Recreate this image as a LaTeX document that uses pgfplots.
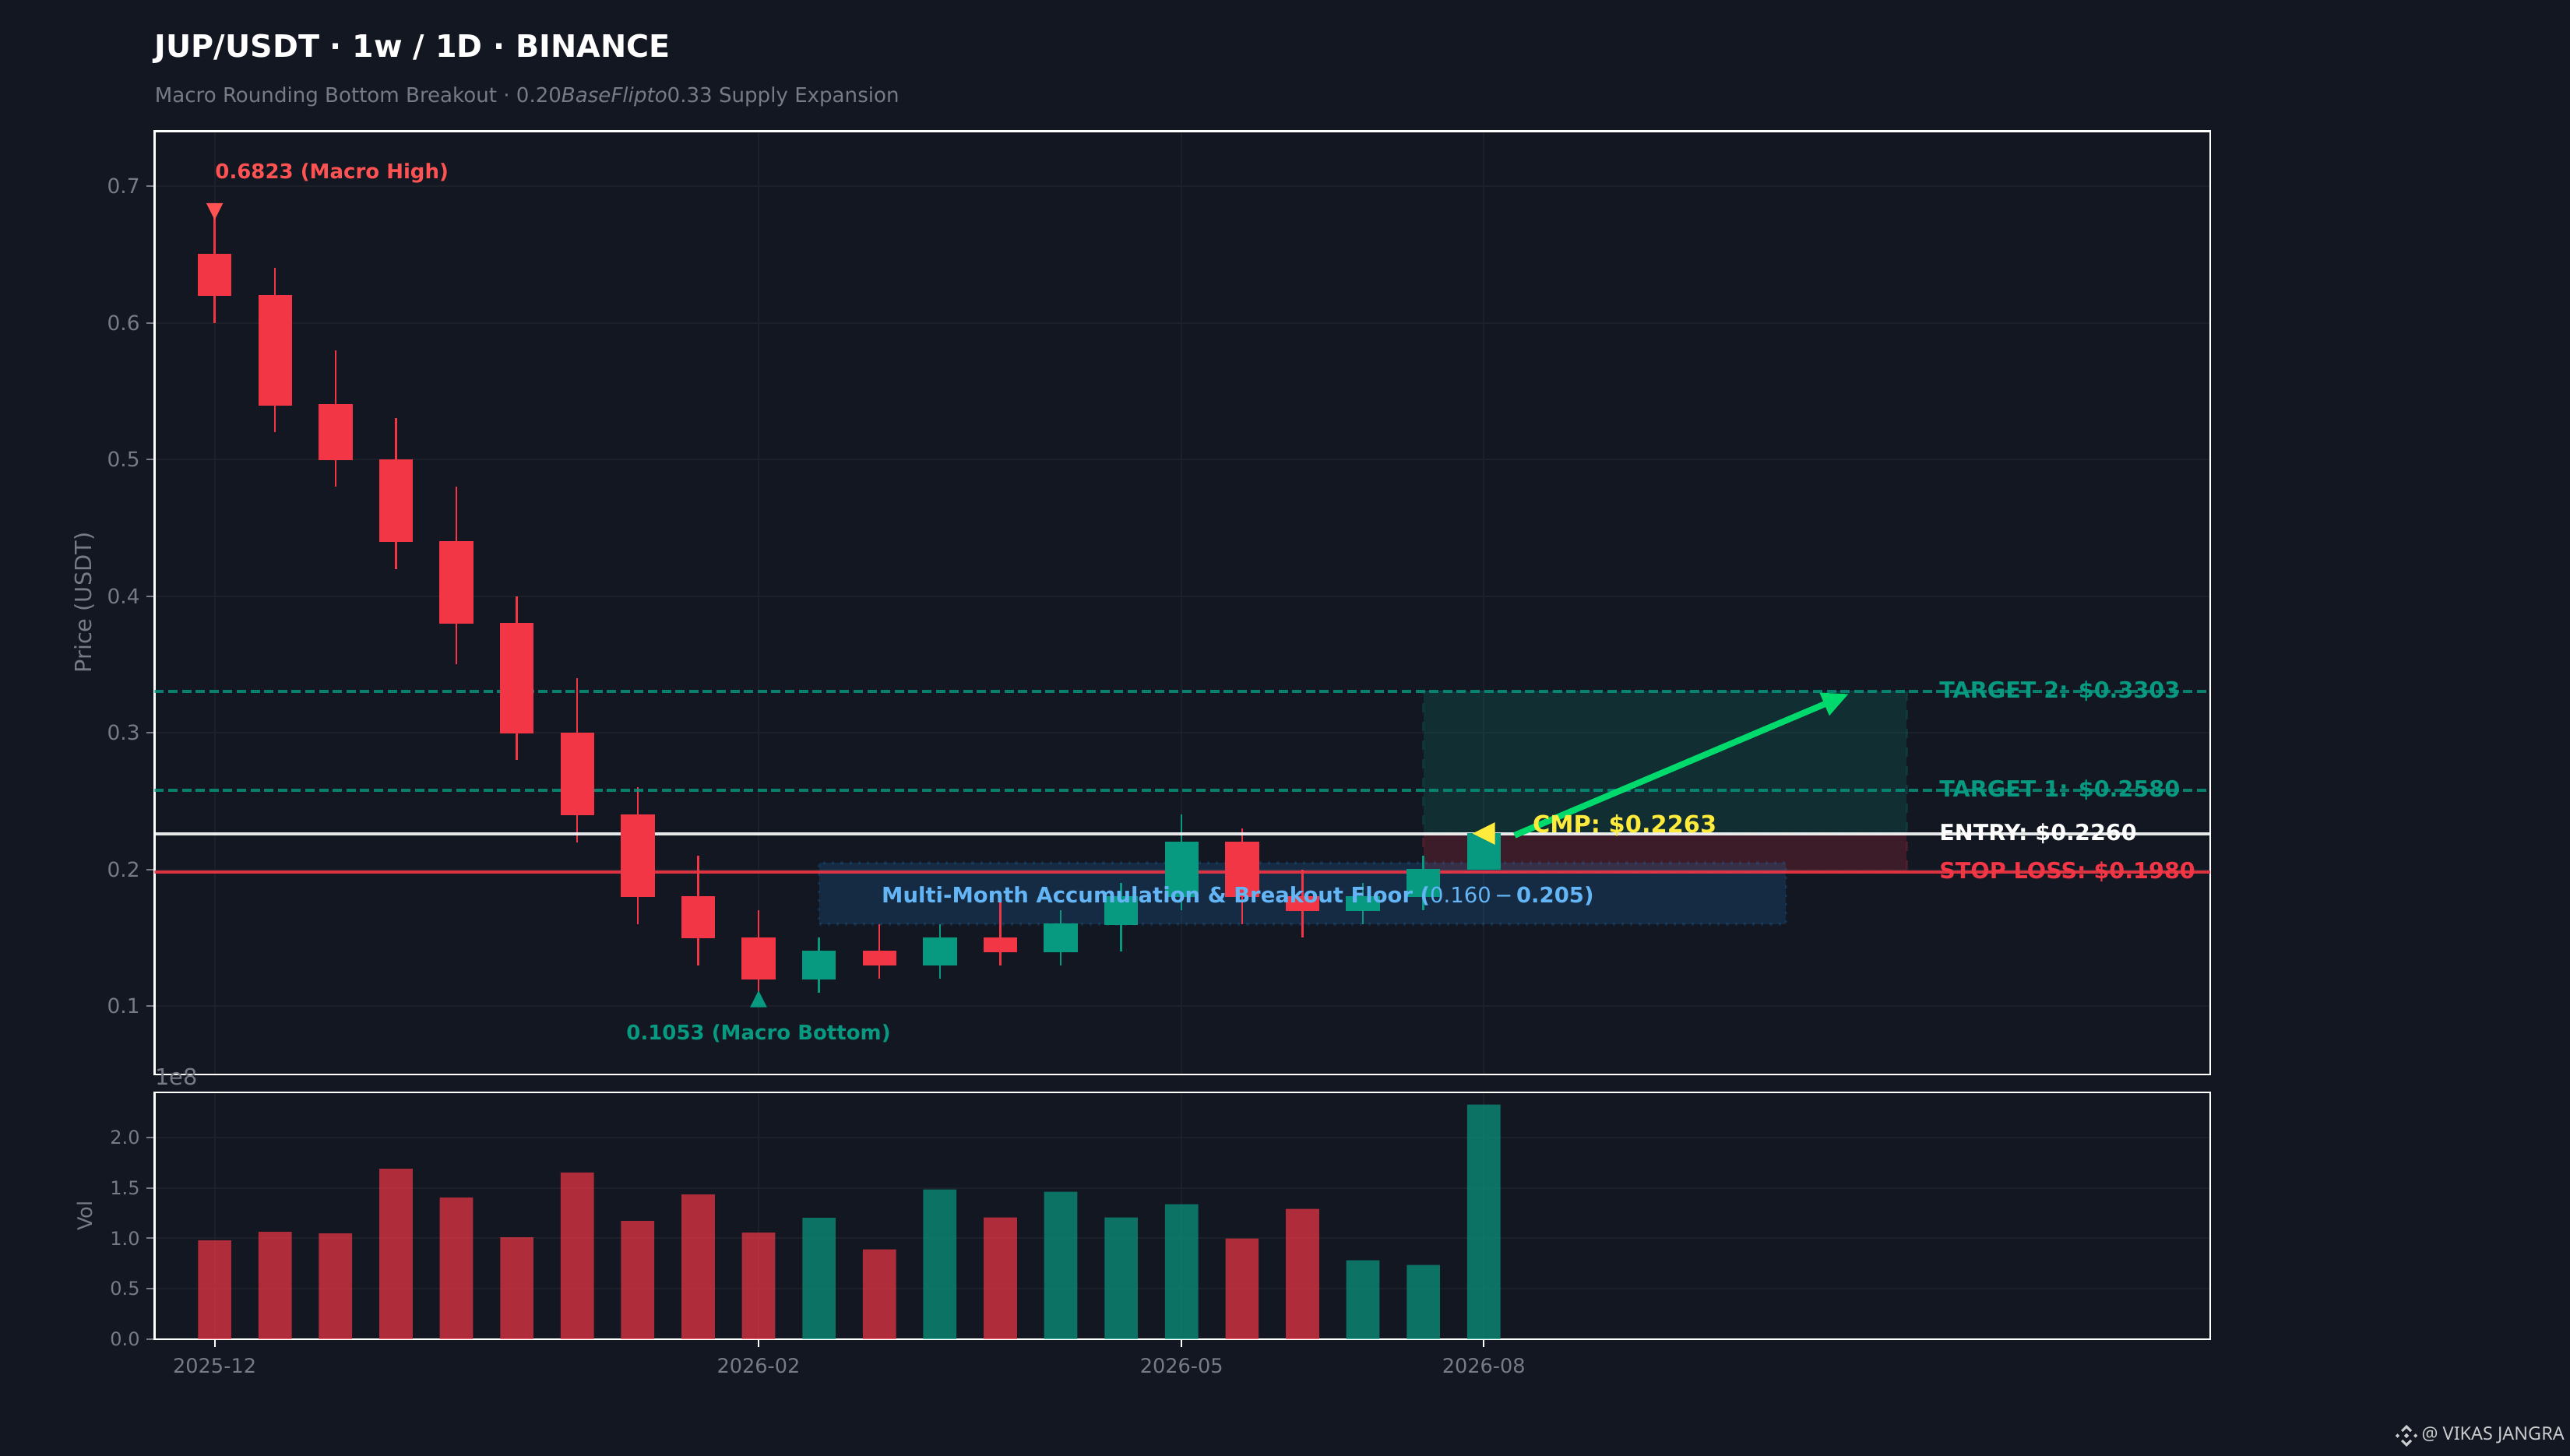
\documentclass[border=0pt]{standalone}
\usepackage{fontspec}
\setmainfont{DejaVu Sans}
\newfontfamily\wmfont{Noto Sans}
\usepackage{pgfplots}
\pgfplotsset{compat=1.18}
\usetikzlibrary{arrows.meta}
\definecolor{bg}{HTML}{131722}
\definecolor{cr}{HTML}{F23645}
\definecolor{cg}{HTML}{089981}
\definecolor{txt}{HTML}{787B86}
\definecolor{gridc}{HTML}{1C2029}
\definecolor{hi}{HTML}{FF5252}
\definecolor{blu}{HTML}{64B5F6}
\definecolor{zoneb}{HTML}{2196F3}
\definecolor{yel}{HTML}{FFEB3B}
\definecolor{arr}{HTML}{00D96C}
\newcommand{\fs}[1]{\fontsize{#1}{#1}\selectfont}
\pgfdeclareplotmark{tdown}{\pgfpathmoveto{\pgfqpoint{-\pgfplotmarksize}{\pgfplotmarksize}}\pgfpathlineto{\pgfqpoint{\pgfplotmarksize}{\pgfplotmarksize}}\pgfpathlineto{\pgfqpoint{0pt}{-\pgfplotmarksize}}\pgfpathclose\pgfusepathqfill}
\pgfdeclareplotmark{tup}{\pgfpathmoveto{\pgfqpoint{-\pgfplotmarksize}{-\pgfplotmarksize}}\pgfpathlineto{\pgfqpoint{\pgfplotmarksize}{-\pgfplotmarksize}}\pgfpathlineto{\pgfqpoint{0pt}{\pgfplotmarksize}}\pgfpathclose\pgfusepathqfill}
\pgfdeclareplotmark{tleft}{\pgfpathmoveto{\pgfqpoint{\pgfplotmarksize}{\pgfplotmarksize}}\pgfpathlineto{\pgfqpoint{\pgfplotmarksize}{-\pgfplotmarksize}}\pgfpathlineto{\pgfqpoint{-\pgfplotmarksize}{0pt}}\pgfpathclose\pgfusepathqfill}
% colour, index, body bottom, body top, low, high
\newcommand{\forcandles}[1]{%
#1{cr}{0}{0.62}{0.65}{0.60}{0.68}%
#1{cr}{1}{0.54}{0.62}{0.52}{0.64}%
#1{cr}{2}{0.50}{0.54}{0.48}{0.58}%
#1{cr}{3}{0.44}{0.50}{0.42}{0.53}%
#1{cr}{4}{0.38}{0.44}{0.35}{0.48}%
#1{cr}{5}{0.30}{0.38}{0.28}{0.40}%
#1{cr}{6}{0.24}{0.30}{0.22}{0.34}%
#1{cr}{7}{0.18}{0.24}{0.16}{0.26}%
#1{cr}{8}{0.15}{0.18}{0.13}{0.21}%
#1{cr}{9}{0.12}{0.15}{0.11}{0.17}%
#1{cg}{10}{0.12}{0.14}{0.11}{0.15}%
#1{cr}{11}{0.13}{0.14}{0.12}{0.16}%
#1{cg}{12}{0.13}{0.15}{0.12}{0.16}%
#1{cr}{13}{0.14}{0.15}{0.13}{0.18}%
#1{cg}{14}{0.14}{0.16}{0.13}{0.17}%
#1{cg}{15}{0.16}{0.18}{0.14}{0.19}%
#1{cg}{16}{0.18}{0.22}{0.17}{0.24}%
#1{cr}{17}{0.18}{0.22}{0.16}{0.23}%
#1{cr}{18}{0.17}{0.18}{0.15}{0.20}%
#1{cg}{19}{0.17}{0.18}{0.16}{0.19}%
#1{cg}{20}{0.18}{0.20}{0.17}{0.21}%
#1{cg}{21}{0.20}{0.2263}{0.20}{0.2263}%
}
\newcommand{\cwick}[6]{\addplot[draw=#1,line width=.6pt,forget plot] coordinates {(#2,#5)(#2,#6)};}
\newcommand{\cbody}[6]{\pgfmathsetmacro\xl{#2-0.272}\pgfmathsetmacro\xr{#2+0.272}\edef\tmp{\noexpand\addplot[fill=#1,draw=#1,line width=.3pt,forget plot] coordinates {(\xl,#3)(\xr,#3)(\xr,#4)(\xl,#4)} -- cycle;}\tmp}
\pgfplotsset{base/.style={
  scale only axis, width=659.9pt, xmin=-0.995, xmax=33.02,
  axis line style={white,line width=.65pt},
  grid=major, major grid style={gridc,line width=.5pt},
  xtick={0,9,16,21}, xtick pos=lower, ytick pos=left,
  tick align=outside, major tick length=2.6pt,
  ytick style={txt,line width=.5pt},
  /pgf/number format/assume math mode=true,
  /pgf/number format/fixed, /pgf/number format/fixed zerofill, /pgf/number format/precision=1,
  anchor=south west,
  y tick label style={text=txt},
  x tick label style={text=txt},
}}
\begin{document}
\begin{tikzpicture}
\path[use as bounding box,fill=bg] (0,0) rectangle (825pt,467.5pt);
\begin{axis}[base, at={(49.6pt,122.5pt)}, height=302.9pt,
  ymin=0.05, ymax=0.7403, ytick={0.1,0.2,0.3,0.4,0.5,0.6,0.7},
  xticklabels={}, xtick style={draw=none},
  y tick label style={font=\fs{6.6},inner sep=1.9pt},
  ylabel={Price (USDT)}, y label style={at={(axis description cs:-0.0342,0.5)},anchor=center,font=\fs{7.2},text=txt},
]
% zones
\addplot[fill=cg,fill opacity=.18,draw=cg,draw opacity=.2,dashed,line width=.7pt,forget plot] coordinates {(20,0.226)(28,0.226)(28,0.3303)(20,0.3303)} -- cycle;
\addplot[fill=cr,fill opacity=.18,draw=cr,draw opacity=.2,dashed,line width=.7pt,forget plot] coordinates {(20,0.198)(28,0.198)(28,0.226)(20,0.226)} -- cycle;
\addplot[fill=zoneb,fill opacity=.16,draw=zoneb,draw opacity=.16,dotted,line width=.8pt,forget plot] coordinates {(10,0.16)(26,0.16)(26,0.205)(10,0.205)} -- cycle;
% wicks
\forcandles{\cwick}
% levels
\addplot[cg,opacity=.8,line width=.85pt,dash pattern=on 3pt off 1.4pt,forget plot] coordinates {(-0.995,0.3303)(33.02,0.3303)};
\addplot[cg,opacity=.8,line width=.85pt,dash pattern=on 3pt off 1.4pt,forget plot] coordinates {(-0.995,0.258)(33.02,0.258)};
\addplot[white,opacity=.9,line width=.9pt,forget plot] coordinates {(-0.995,0.226)(33.02,0.226)};
\addplot[cr,opacity=.9,line width=.9pt,forget plot] coordinates {(-0.995,0.198)(33.02,0.198)};
% bodies
\forcandles{\cbody}
% markers
\addplot[only marks,mark=tdown,mark size=2.7pt,hi,forget plot] coordinates {(0,0.6815)};
\addplot[only marks,mark=tup,mark size=2.7pt,cg,forget plot] coordinates {(9,0.1053)};
\addplot[only marks,mark=tleft,mark size=3.6pt,yel,forget plot] coordinates {(21,0.2263)};
\addplot[arr,line width=2pt,-{Triangle[length=8.5pt,width=7.4pt]},forget plot] coordinates {(21.51,0.225)(27.04,0.3285)};
% labels
\node[anchor=west,inner sep=0pt,font=\fs{6.5}\bfseries,text=hi] at (axis cs:0,0.7095) {0.6823 (Macro High)};
\node[anchor=center,inner sep=0pt,font=\fs{6.5}\bfseries,text=cg] at (axis cs:9,0.0797) {0.1053 (Macro Bottom)};
\node[anchor=center,inner sep=0pt,font=\fs{6.87},text=blu] at (axis cs:16.93,0.1806) {{\bfseries Multi-Month Accumulation \& Breakout Floor (}0.160\,−\,{\bfseries 0.205)}};
\node[anchor=west,inner sep=0pt,font=\fs{7.6}\bfseries,text=yel] at (axis cs:21.8,0.2322) {CMP: \$0.2263};
\node[anchor=west,inner sep=0pt,font=\fs{7.15}\bfseries,text=cg] at (axis cs:28.53,0.3303) {TARGET 2: \$0.3303};
\node[anchor=west,inner sep=0pt,font=\fs{7.15}\bfseries,text=cg] at (axis cs:28.53,0.258) {TARGET 1: \$0.2580};
\node[anchor=west,inner sep=0pt,font=\fs{7.15}\bfseries,text=white] at (axis cs:28.53,0.226) {ENTRY: \$0.2260};
\node[anchor=west,inner sep=0pt,font=\fs{7.15}\bfseries,text=cr] at (axis cs:28.53,0.198) {STOP LOSS: \$0.1980};
\end{axis}
\begin{axis}[base, at={(49.6pt,37.5pt)}, height=79.25pt,
  ymin=0, ymax=2.448, ytick={0,0.5,1,1.5,2},
  xticklabels={2025-12,2026-02,2026-05,2026-08},
  xtick style={white,line width=.5pt},
  x tick label style={font=\fs{6.4}},
  y tick label style={font=\fs{6.0},inner sep=1.9pt},
  ylabel={Vol}, y label style={at={(axis description cs:-0.0339,0.5)},anchor=center,font=\fs{6.4},text=txt},
]
\addplot[ybar,bar width=0.55,bar shift=0pt,fill=cr,fill opacity=.7,draw=none,forget plot] coordinates {(0,0.98)(1,1.065)(2,1.05)(3,1.69)(4,1.405)(5,1.01)(6,1.653)(7,1.172)(8,1.436)(9,1.057)(11,0.89)(13,1.207)(17,0.999)(18,1.292)};
\addplot[ybar,bar width=0.55,bar shift=0pt,fill=cg,fill opacity=.7,draw=none,forget plot] coordinates {(10,1.204)(12,1.485)(14,1.462)(15,1.207)(16,1.338)(19,0.782)(20,0.736)(21,2.327)};
\end{axis}
\node[anchor=base west,inner sep=0pt,font=\fs{7.2},text=txt] at (49.6pt,119pt) {1e8};
\node[anchor=west,inner sep=0pt,font=\fs{9.92}\bfseries,text=white] at (49.5pt,451.7pt) {JUP/USDT · 1w / 1D · BINANCE};
\node[anchor=west,inner sep=0pt,font=\fs{6.52},text=txt] at (49.5pt,436.5pt) {Macro Rounding Bottom Breakout · 0.20\textit{BaseFlipto}0.33 Supply Expansion};
% watermark
\begin{scope}[shift={(772.5pt,6.5pt)},x=1pt,y=1pt,fill=white!78!bg]
\fill (0,3.5)--(1.75,1.75)--(1.2,1.2)--(0,2.4)--(-1.2,1.2)--(-1.75,1.75)--cycle;
\fill (0,-3.5)--(1.75,-1.75)--(1.2,-1.2)--(0,-2.4)--(-1.2,-1.2)--(-1.75,-1.75)--cycle;
\fill (0,.8)--(.8,0)--(0,-.8)--(-.8,0)--cycle;
\fill (2.9,.65)--(3.55,0)--(2.9,-.65)--(2.25,0)--cycle;
\fill (-2.9,.65)--(-2.25,0)--(-2.9,-.65)--(-3.55,0)--cycle;
\end{scope}
\node[anchor=west,inner sep=0pt,font={\wmfont\fs{5.85}},text=white!78!bg] at (777.2pt,6.6pt) {@ VIKAS JANGRA};
\end{tikzpicture}
\end{document}
